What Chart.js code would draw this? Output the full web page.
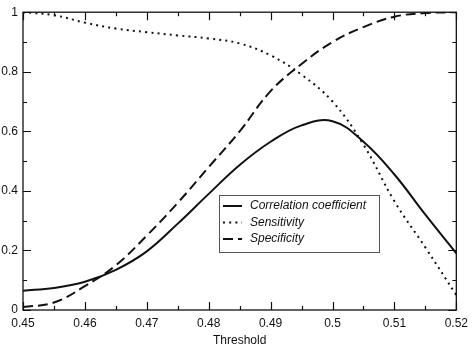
<!DOCTYPE html>
<html>
<head>
<meta charset="utf-8">
<script src="https://cdn.jsdelivr.net/npm/chart.js@4.4.1/dist/chart.umd.min.js"></script>
<style>
  html,body{margin:0;padding:0;background:#fff;}
  #wrap{width:474px;height:348px;}
</style>
</head>
<body>
<div id="wrap"><canvas id="c" width="474" height="348"></canvas></div>
<script>
const thresholds = [0.45,0.455,0.46,0.465,0.47,0.475,0.48,0.485,0.49,0.495,0.5,0.505,0.51,0.515,0.52];
const correlation = [0.065,0.074,0.095,0.135,0.197,0.29,0.39,0.487,0.565,0.62,0.634,0.565,0.455,0.32,0.19];
const sensitivity = [1.0,0.99,0.965,0.945,0.933,0.922,0.912,0.895,0.855,0.79,0.70,0.555,0.365,0.21,0.05];
const specificity = [0.01,0.025,0.08,0.15,0.25,0.36,0.48,0.60,0.735,0.826,0.9,0.95,0.985,0.997,1.0];
const seriesNames = ['Correlation coefficient','Sensitivity','Specificity'];
const xTicks = [0.45,0.46,0.47,0.48,0.49,0.5,0.51,0.52];
const yTicks = [0,0.2,0.4,0.6,0.8,1];

const toPts = arr => thresholds.map((t,i)=>({x:t,y:arr[i]}));
const FONT = '"Liberation Sans", Arial, Helvetica, sans-serif';
const INK = '#111';

const frameTicks = {
  id:'frameTicks',
  afterDatasetsDraw(chart){
    const {ctx, chartArea:a, scales:{x,y}} = chart;
    ctx.save();
    ctx.strokeStyle = INK;
    ctx.lineWidth = 1.3;
    ctx.strokeRect(a.left, a.top, a.right-a.left, a.bottom-a.top);
    ctx.lineWidth = 1.2;
    ctx.beginPath();
    for(let i=0;i<=14;i++){
      const v = 0.45 + i*0.005;
      const px = Math.round(x.getPixelForValue(v))+0.5;
      const len = (i%2===0)?8:4;
      ctx.moveTo(px,a.bottom); ctx.lineTo(px,a.bottom-len);
      ctx.moveTo(px,a.top); ctx.lineTo(px,a.top+len);
    }
    for(let i=0;i<=10;i++){
      const v = i*0.1;
      const py = Math.round(y.getPixelForValue(v))+0.5;
      const len = (i%2===0)?8:4;
      ctx.moveTo(a.left,py); ctx.lineTo(a.left+len,py);
      ctx.moveTo(a.right,py); ctx.lineTo(a.right-len,py);
    }
    ctx.stroke();

    // legend box
    const bx=219, by=195, bw=160, bh=57;
    ctx.fillStyle='#fff';
    ctx.fillRect(bx,by,bw,bh);
    ctx.lineWidth=1;
    ctx.strokeStyle='#555';
    ctx.strokeRect(bx+0.5,by+0.5,bw,bh);
    chart.data.datasets.forEach((ds,i)=>{
      const ly = by+11+i*16.5;
      ctx.save();
      ctx.strokeStyle=ds.borderColor;
      ctx.lineWidth=ds.borderWidth;
      ctx.setLineDash(ds.borderDash||[]);
      ctx.beginPath();
      ctx.moveTo(bx+4,ly); ctx.lineTo(bx+23,ly);
      ctx.stroke();
      ctx.restore();
      ctx.fillStyle=INK;
      ctx.font='italic 12px '+FONT;
      ctx.textBaseline='middle';
      ctx.textAlign='left';
      ctx.fillText(ds.label,bx+31,ly);
    });
    ctx.restore();
  }
};

new Chart(document.getElementById('c'),{
  type:'line',
  data:{
    datasets:[
      {label:seriesNames[0],data:toPts(correlation),borderColor:INK,borderWidth:2,pointRadius:0,tension:0.4,fill:false},
      {label:seriesNames[1],data:toPts(sensitivity),borderColor:INK,borderWidth:2,borderDash:[2,4.2],pointRadius:0,tension:0.4,fill:false},
      {label:seriesNames[2],data:toPts(specificity),borderColor:INK,borderWidth:2,borderDash:[10,5],pointRadius:0,tension:0.4,fill:false}
    ]
  },
  options:{
    responsive:false,
    animation:false,
    layout:{padding:{left:0,right:16,top:6,bottom:0}},
    plugins:{legend:{display:false},tooltip:{enabled:false}},
    scales:{
      x:{
        type:'linear',min:0.45,max:0.52,
        grid:{display:false,drawTicks:false},
        border:{display:false},
        afterBuildTicks(s){s.ticks=xTicks.map(v=>({value:v}));},
        afterFit(s){s.height=38;},
        ticks:{color:INK,font:{family:FONT,size:12},padding:6,maxRotation:0,autoSkip:false,
          callback:v=>String(Number(v.toFixed(3)))},
        title:{display:true,text:'Threshold',color:INK,font:{family:FONT,size:12},padding:{top:2,bottom:0}}
      },
      y:{
        type:'linear',min:0,max:1,
        grid:{display:false,drawTicks:false},
        border:{display:false},
        afterBuildTicks(s){s.ticks=yTicks.map(v=>({value:v}));},
        afterFit(s){s.width=23;},
        ticks:{color:INK,font:{family:FONT,size:12},padding:5,autoSkip:false,
          callback:v=>String(Number(v.toFixed(2)))}
      }
    }
  },
  plugins:[frameTicks]
});
</script>
</body>
</html>
